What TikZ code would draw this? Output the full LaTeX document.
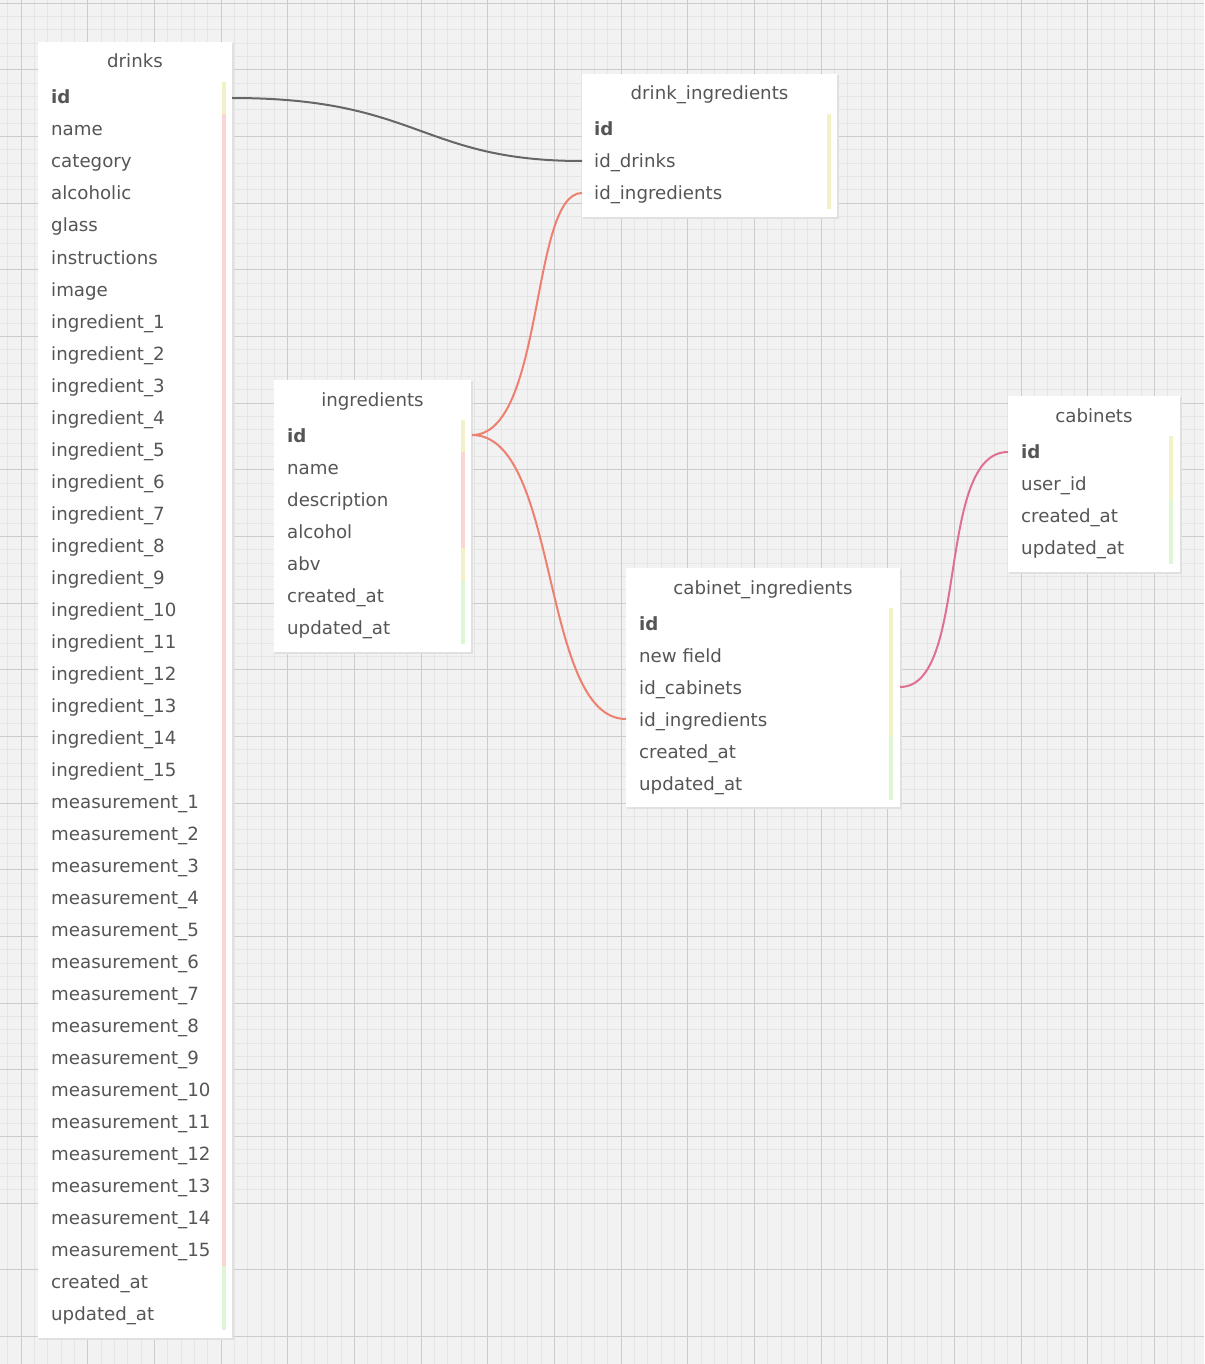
\documentclass[tikz,border=0pt]{standalone}
\usepackage{fontspec}
\setmainfont{DejaVu Sans}
\definecolor{txt}{HTML}{555555}
\definecolor{barY}{HTML}{F2F2C6}
\definecolor{barP}{HTML}{F8D6D6}
\definecolor{barG}{HTML}{DDF7D6}
\definecolor{cDark}{HTML}{666666}
\definecolor{cSal}{HTML}{EE8070}
\definecolor{cPink}{HTML}{E07090}
\tikzset{
 ttl/.style={text=txt,font=\fontsize{18.2}{20}\selectfont,anchor=base,inner sep=0pt},
 fld/.style={text=txt,font=\fontsize{18.2}{20}\selectfont,anchor=base west,inner sep=0pt},
 pk/.style={fld,font=\fontsize{18.2}{20}\selectfont\bfseries},
 conn/.style={line width=2pt},
}
\begin{document}
\begin{tikzpicture}[x=1pt,y=-1pt]
\useasboundingbox (0,0) rectangle (1204,1364);
\fill[white!95!black] (0,0) rectangle (1204,1364);
\foreach \i in {0,...,90}{
 \draw[white!90!black,line width=0.6pt] ({7.67+\i*13.333},0) -- ++(0,1364);
 \draw[white!90!black,line width=0.6pt] (0,{3+\i*13.333}) -- ++(1204,0);}
\foreach \i in {0,...,20}{
 \draw[white!80!black,line width=0.9pt] ({21+\i*66.667},0) -- ++(0,1364);
 \draw[white!80!black,line width=0.9pt] (0,{3+\i*66.667}) -- ++(1204,0);}
\newcommand{\mytable}[6]{% name, x1,y1,x2,y2, title
 \fill[black!12] (#2+1,#3+1) rectangle (#4+2,#5+2);
 \fill[white] (#2,#3) rectangle (#4,#5);
 \node[ttl] (#1-t) at ({(#2+#4)/2},#3+26) {#6};
}
% drinks
\mytable{dr}{38}{42}{232}{1338}{drinks}
\fill[barY] (222,82) rectangle (226,114);
\fill[barP] (222,114) rectangle (226,1266);
\fill[barG] (222,1266) rectangle (226,1330);
\node[pk] (dr-id) at (51,104) {id};
\foreach[count=\k] \f in {name,category,alcoholic,glass,instructions,image,ingredient\_1,ingredient\_2,ingredient\_3,ingredient\_4,ingredient\_5,ingredient\_6,ingredient\_7,ingredient\_8,ingredient\_9,ingredient\_10,ingredient\_11,ingredient\_12,ingredient\_13,ingredient\_14,ingredient\_15,measurement\_1,measurement\_2,measurement\_3,measurement\_4,measurement\_5,measurement\_6,measurement\_7,measurement\_8,measurement\_9,measurement\_10,measurement\_11,measurement\_12,measurement\_13,measurement\_14,measurement\_15,created\_at,updated\_at}
 \node[fld] (dr-\k) at (51,104+32*\k) {\f};
\coordinate (dr-idR) at (232,98);
% drink_ingredients
\mytable{di}{582}{74}{837}{217}{drink\_ingredients}
\fill[barY] (827,114) rectangle (831,209);
\node[pk] (di-id) at (594,136) {id};
\node[fld] (di-dr) at (594,168) {id\_drinks};
\node[fld] (di-in) at (594,200) {id\_ingredients};
\coordinate (di-drL) at (582,161);
\coordinate (di-inL) at (582,193);
% ingredients
\mytable{in}{274}{380}{471}{652}{ingredients}
\fill[barY] (461,420) rectangle (465,452);
\fill[barP] (461,452) rectangle (465,548);
\fill[barY] (461,548) rectangle (465,580);
\fill[barG] (461,580) rectangle (465,644);
\node[pk] (in-id) at (287,442) {id};
\foreach[count=\k] \f in {name,description,alcohol,abv,created\_at,updated\_at}
 \node[fld] (in-\k) at (287,442+32*\k) {\f};
\coordinate (in-idR) at (472,435);
% cabinets
\mytable{ca}{1008}{396}{1180}{572}{cabinets}
\fill[barY] (1169,436) rectangle (1173,500);
\fill[barG] (1169,500) rectangle (1173,564);
\node[pk] (ca-id) at (1021,458) {id};
\foreach[count=\k] \f in {user\_id,created\_at,updated\_at}
 \node[fld] (ca-\k) at (1021,458+32*\k) {\f};
\coordinate (ca-idL) at (1008,452);
% cabinet_ingredients
\mytable{ci}{626}{568}{900}{807}{cabinet\_ingredients}
\fill[barY] (889,608) rectangle (893,736);
\fill[barG] (889,736) rectangle (893,800);
\node[pk] (ci-id) at (639,630) {id};
\foreach[count=\k] \f in {new field,id\_cabinets,id\_ingredients,created\_at,updated\_at}
 \node[fld] (ci-\k) at (639,630+32*\k) {\f};
\coordinate (ci-cabR) at (900,687);
\coordinate (ci-inL) at (626,719);
% connectors
\draw[conn,cDark] (dr-idR) .. controls (420,98) and (420,161) .. (di-drL);
\draw[conn,cSal] (in-idR) .. controls (545,435) and (530,193) .. (di-inL);
\draw[conn,cSal] (in-idR) .. controls (560,435) and (540,719) .. (ci-inL);
\draw[conn,cPink] (ci-cabR) .. controls (970,687) and (935,452) .. (ca-idL);
\end{tikzpicture}
\end{document}
